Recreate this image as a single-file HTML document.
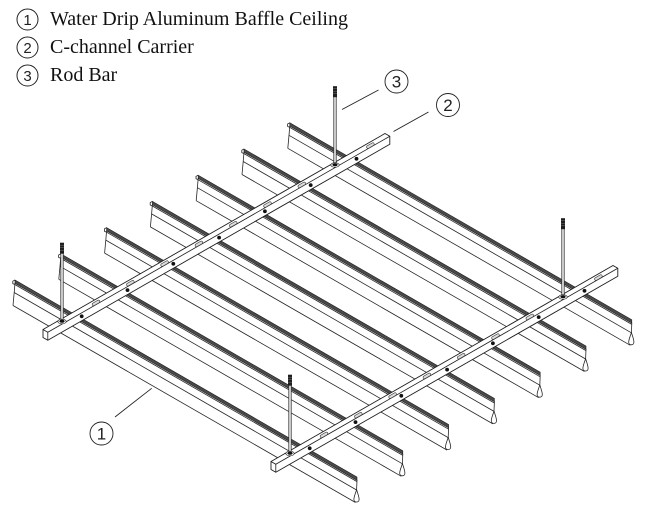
<!DOCTYPE html>
<html>
<head>
<meta charset="utf-8">
<style>
  html, body { margin:0; padding:0; background:#fff; }
  body { width:650px; height:526px; overflow:hidden; }
  svg { display:block; }
  .lg { font-family: "Liberation Serif", "Times New Roman", serif; font-size:20px; fill:#111; }
  .dg { font-family: "Liberation Sans", Arial, sans-serif; fill:#222; text-anchor:middle; }
</style>
</head>
<body>
<svg width="650" height="526" viewBox="0 0 650 526" xmlns="http://www.w3.org/2000/svg">
  <defs>
    <g id="b" fill="none" stroke="#262626" stroke-width="0.8">
      <line x1="15" y1="284.6" x2="357" y2="481.6"/>
      <line x1="14.2" y1="292.5" x2="356.6" y2="490"/>
      <line x1="13" y1="305.5" x2="355.5" y2="502.5"/>
      <path d="M15,283 L14.2,292.5 L13,305.5"/>
      <path d="M15,280 L12.8,281.2 L12.8,283.6 L15,284.6"/>
      <path d="M357,480 L356.6,490"/>
      <path d="M356.6,489.5 C355.6,493.5 353.8,496.5 353.9,499.6 C354,502.8 359,502.8 359.1,499.6 C359.2,496.5 357.6,493.5 356.6,489.5 Z" fill="#fff"/>
      <polygon points="15,280 357,477 357,480.3 15,283.3" fill="#4a4a4a" stroke="#1c1c1c" stroke-width="0.6"/>
    </g>

    <g id="c">
      <polygon points="43,329.5 385,133.5 389.8,136.25 389.8,144.25 47.8,340.25 43,337.5" fill="#fff" stroke="#1e1e1e" stroke-width="0.9"/>
      <polyline points="43,329.5 47.8,332.25 389.8,136.25" fill="none" stroke="#1e1e1e" stroke-width="0.8"/>
      <line x1="47.8" y1="332.25" x2="47.8" y2="340.25" stroke="#1e1e1e" stroke-width="0.8"/>
      <g fill="#dcdcdc" stroke="#333" stroke-width="0.6">
        <rect x="-4.2" y="-1.4" width="8.4" height="2.8" rx="1.4" transform="translate(96,302.9) rotate(-29.8)"/>
        <rect x="-4.2" y="-1.4" width="8.4" height="2.8" rx="1.4" transform="translate(130.3,283.2) rotate(-29.8)"/>
        <rect x="-4.2" y="-1.4" width="8.4" height="2.8" rx="1.4" transform="translate(164.6,263.6) rotate(-29.8)"/>
        <rect x="-4.2" y="-1.4" width="8.4" height="2.8" rx="1.4" transform="translate(198.9,243.9) rotate(-29.8)"/>
        <rect x="-4.2" y="-1.4" width="8.4" height="2.8" rx="1.4" transform="translate(233.2,224.2) rotate(-29.8)"/>
        <rect x="-4.2" y="-1.4" width="8.4" height="2.8" rx="1.4" transform="translate(267.5,204.6) rotate(-29.8)"/>
        <rect x="-4.2" y="-1.4" width="8.4" height="2.8" rx="1.4" transform="translate(301.8,184.9) rotate(-29.8)"/>
        <rect x="-4.2" y="-1.4" width="8.4" height="2.8" rx="1.4" transform="translate(370.4,145.6) rotate(-29.8)"/>
      </g>
      <g fill="#111">
        <circle cx="81.7" cy="316.3" r="1.9"/>
        <circle cx="127.5" cy="290.1" r="1.9"/>
        <circle cx="173.3" cy="263.8" r="1.9"/>
        <circle cx="219.1" cy="237.6" r="1.9"/>
        <circle cx="264.9" cy="211.3" r="1.9"/>
        <circle cx="310.7" cy="185.1" r="1.9"/>
        <circle cx="356.5" cy="158.8" r="1.9"/>
      </g>
    </g>

    <g id="r">
      <rect x="-1.3" y="-68" width="2.6" height="68" fill="#c8c8c8" stroke="#333" stroke-width="0.6"/>
      <rect x="-2" y="-78.5" width="4" height="11" fill="#1e1e1e"/>
      <path d="M-2,-76 h4 M-2,-73.5 h4 M-2,-71 h4" stroke="#777" stroke-width="0.5"/>
      <ellipse cx="0" cy="0.3" rx="4.2" ry="2.3" fill="#fff" stroke="#222" stroke-width="0.7"/>
      <ellipse cx="0" cy="0" rx="2.6" ry="1.6" fill="#111"/>
    </g>
  </defs>

  <g fill="none" stroke="#222" stroke-width="1">
    <circle cx="27.5" cy="19.5" r="10.5"/>
    <circle cx="27.5" cy="47.5" r="10.5"/>
    <circle cx="27.5" cy="75.5" r="10.5"/>
  </g>
  <text class="dg" x="27.5" y="24.8" font-size="15">1</text>
  <text class="dg" x="27.5" y="52.8" font-size="15">2</text>
  <text class="dg" x="27.5" y="80.8" font-size="15">3</text>
  <text class="lg" x="50" y="25">Water Drip Aluminum Baffle Ceiling</text>
  <text class="lg" x="50" y="53">C-channel Carrier</text>
  <text class="lg" x="50" y="81">Rod Bar</text>

  <use href="#b" transform="translate(274.8,-157.2)"/>
  <use href="#b" transform="translate(229,-131)"/>
  <use href="#b" transform="translate(183.2,-104.8)"/>
  <use href="#b" transform="translate(137.4,-78.6)"/>
  <use href="#b" transform="translate(91.6,-52.4)"/>
  <use href="#b" transform="translate(45.8,-26.2)"/>
  <use href="#b"/>

  <use href="#c"/>
  <use href="#c" transform="translate(228,132)"/>

  <use href="#r" transform="translate(62,321.2)"/>
  <use href="#r" transform="translate(335,164.7)"/>
  <use href="#r" transform="translate(290,453.2)"/>
  <use href="#r" transform="translate(563,296.7)"/>

  <g fill="none" stroke="#222" stroke-width="0.9">
    <circle cx="396.5" cy="81.5" r="11.5"/>
    <circle cx="448" cy="105" r="11.5"/>
    <circle cx="101.5" cy="433.5" r="11.5"/>
    <line x1="378.5" y1="90" x2="342" y2="109.5"/>
    <line x1="428.5" y1="112" x2="393.5" y2="131.5"/>
    <line x1="115" y1="417" x2="151.7" y2="388.3"/>
  </g>
  <text class="dg" x="396.5" y="87.5" font-size="17">3</text>
  <text class="dg" x="448" y="111" font-size="17">2</text>
  <text class="dg" x="101.5" y="439.5" font-size="17">1</text>
</svg>
</body>
</html>
